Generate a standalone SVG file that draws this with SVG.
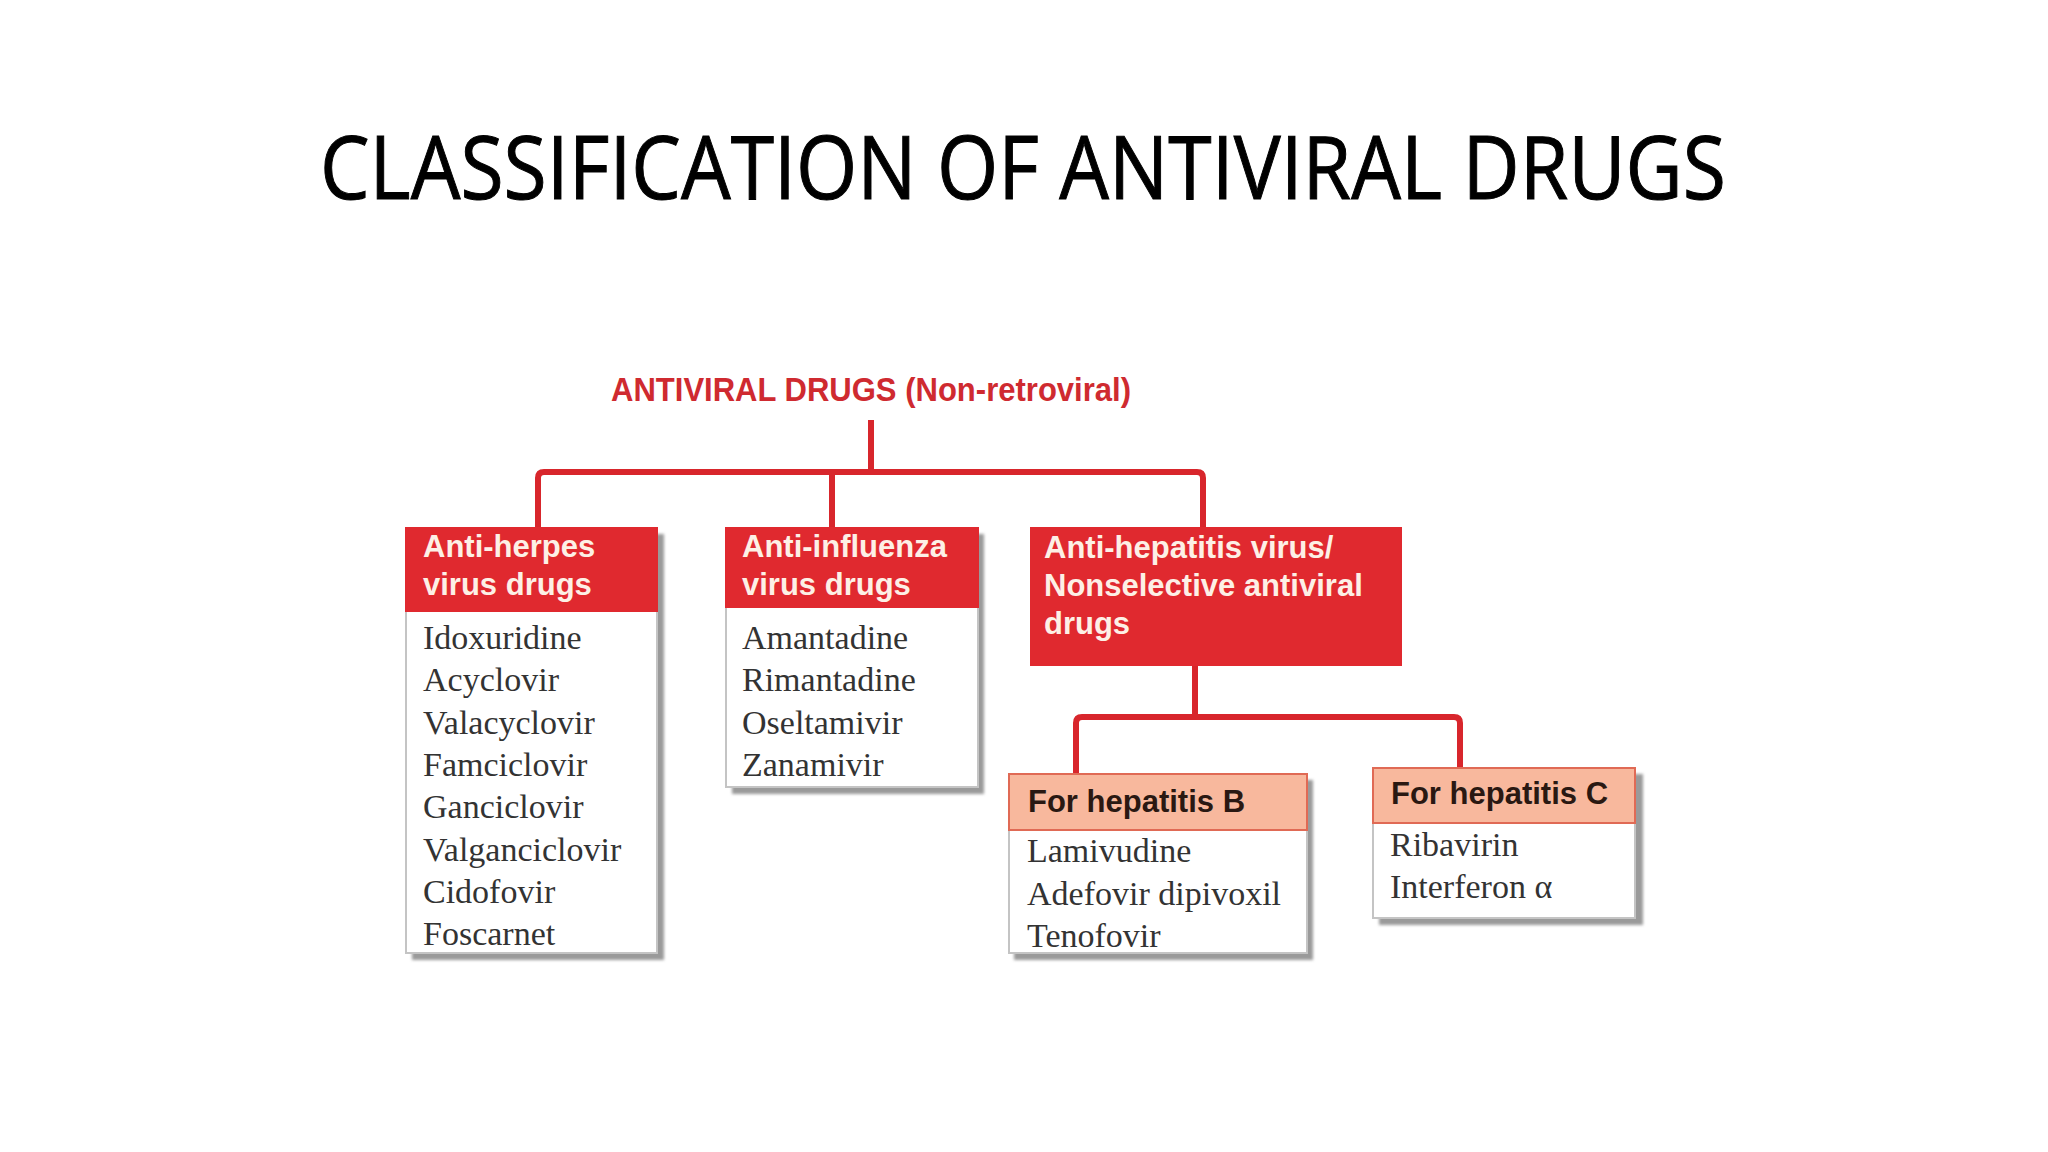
<svg xmlns="http://www.w3.org/2000/svg" width="2048" height="1152" viewBox="0 0 2048 1152">
<defs>
<filter id="sh" x="-10%" y="-10%" width="130%" height="130%"><feGaussianBlur stdDeviation="1.5"/></filter>
<style>
.title{font-family:"Open Sans","Liberation Sans",sans-serif;font-size:88px;fill:#000;stroke:#000;stroke-width:1}
.root{font-family:"Liberation Sans",Arial,sans-serif;font-weight:bold;font-size:34px;fill:#cf2a30}
.hd{font-family:"Liberation Sans",Arial,sans-serif;font-weight:bold;font-size:31px;fill:#fdf0e6}
.hd2{font-family:"Liberation Sans",Arial,sans-serif;font-weight:bold;font-size:31px;fill:#2a1812}
.it{font-family:"Liberation Serif","Times New Roman",serif;font-size:34px;fill:#333}
.shadow{fill:#9a9a9a;filter:url(#sh)}
.body{fill:#fff;stroke:#c4c4c4;stroke-width:2}
.red{fill:#e0292f}
.peach{fill:#f8b89d;stroke:#e06a55;stroke-width:2}
.conn{fill:none;stroke:#d8262c;stroke-width:6;stroke-linejoin:round}
</style>
</defs>
<rect width="2048" height="1152" fill="#fff"/>
<text class="title" x="320" y="199" textLength="1406" lengthAdjust="spacingAndGlyphs">CLASSIFICATION OF ANTIVIRAL DRUGS</text>

<g id="connectors">
<path class="conn" d="M871 420 V472"/>
<path class="conn" d="M538 528 V478 Q538 472 544 472 H1197 Q1203 472 1203 478 V528"/>
<path class="conn" d="M832 472 V528"/>
<path class="conn" d="M1195 666 V717"/>
<path class="conn" d="M1076 775 V723 Q1076 717 1082 717 H1454 Q1460 717 1460 723 V768"/>
</g>

<g id="root">
<text class="root" x="611" y="401" textLength="520" lengthAdjust="spacingAndGlyphs">ANTIVIRAL DRUGS (Non-retroviral)</text>
</g>

<g id="anti-herpes">
<rect class="shadow" x="412" y="534" width="252" height="426"/>
<rect class="body" x="406" y="528" width="251" height="425"/>
<rect class="red" x="405" y="527" width="253" height="85"/>
<text class="hd" x="423" y="557">Anti-herpes</text>
<text class="hd" x="423" y="595">virus drugs</text>
<text class="it" x="423" y="649">Idoxuridine</text>
<text class="it" x="423" y="691">Acyclovir</text>
<text class="it" x="423" y="734">Valacyclovir</text>
<text class="it" x="423" y="776">Famciclovir</text>
<text class="it" x="423" y="818">Ganciclovir</text>
<text class="it" x="423" y="861">Valganciclovir</text>
<text class="it" x="423" y="903">Cidofovir</text>
<text class="it" x="423" y="945">Foscarnet</text>
</g>

<g id="anti-influenza">
<rect class="shadow" x="732" y="534" width="252" height="260"/>
<rect class="body" x="726" y="528" width="252" height="259"/>
<rect class="red" x="725" y="527" width="254" height="81"/>
<text class="hd" x="742" y="557">Anti-influenza</text>
<text class="hd" x="742" y="595">virus drugs</text>
<text class="it" x="742" y="649">Amantadine</text>
<text class="it" x="742" y="691">Rimantadine</text>
<text class="it" x="742" y="734">Oseltamivir</text>
<text class="it" x="742" y="776">Zanamivir</text>
</g>

<g id="anti-hepatitis">
<rect class="red" x="1030" y="527" width="372" height="139"/>
<text class="hd" x="1044" y="558">Anti-hepatitis virus/</text>
<text class="hd" x="1044" y="596">Nonselective antiviral</text>
<text class="hd" x="1044" y="634">drugs</text>
</g>

<g id="hep-b">
<rect class="shadow" x="1014" y="780" width="299" height="180"/>
<rect class="body" x="1009" y="774" width="298" height="179"/>
<rect class="peach" x="1009" y="774" width="298" height="56"/>
<text class="hd2" x="1028" y="812">For hepatitis B</text>
<text class="it" x="1027" y="862">Lamivudine</text>
<text class="it" x="1027" y="905">Adefovir dipivoxil</text>
<text class="it" x="1027" y="947">Tenofovir</text>
</g>

<g id="hep-c">
<rect class="shadow" x="1379" y="774" width="264" height="151"/>
<rect class="body" x="1373" y="768" width="262" height="150"/>
<rect class="peach" x="1373" y="768" width="262" height="55"/>
<text class="hd2" x="1391" y="804">For hepatitis C</text>
<text class="it" x="1390" y="856">Ribavirin</text>
<text class="it" x="1390" y="898">Interferon α</text>
</g>
</svg>
